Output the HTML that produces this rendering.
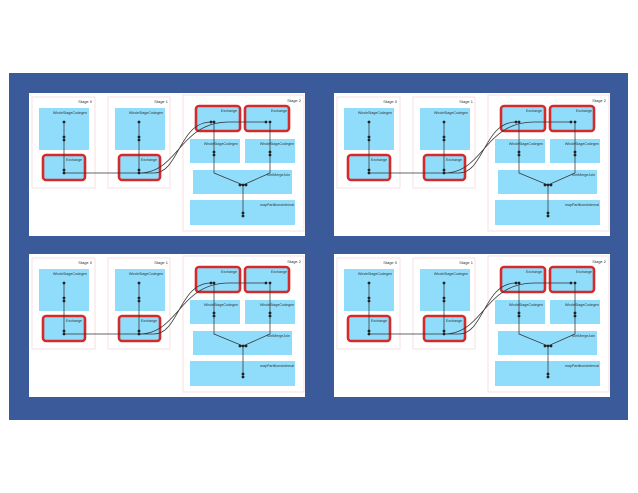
<!DOCTYPE html>
<html><head><style>html,body{margin:0;padding:0;background:#fff;}svg{display:block}</style></head>
<body>
<svg width="638" height="493" viewBox="0 0 638 493" xmlns="http://www.w3.org/2000/svg" font-family="Liberation Sans, sans-serif">
<defs>
<g id="p">
  <rect x="0" y="0" width="276" height="143" fill="#fff"/>
  <rect x="3" y="4" width="63" height="91" fill="none" stroke="#f3d6dc" stroke-width="0.7"/>
  <rect x="79" y="4" width="62" height="91" fill="none" stroke="#f3d6dc" stroke-width="0.7"/>
  <rect x="154" y="2" width="121" height="136" fill="none" stroke="#f3d6dc" stroke-width="0.7"/>
  <text x="63" y="10" font-size="4" text-anchor="end" fill="#333">Stage 0</text>
  <text x="139" y="10" font-size="4" text-anchor="end" fill="#333">Stage 1</text>
  <text x="272" y="9" font-size="4" text-anchor="end" fill="#333">Stage 2</text>
  <g fill="#8fdcfb">
    <rect x="10" y="15" width="50" height="42"/>
    <rect x="86" y="15" width="50" height="42"/>
    <rect x="14" y="62" width="42" height="25"/>
    <rect x="90" y="62" width="41" height="25"/>
    <rect x="167" y="13" width="44" height="25"/>
    <rect x="216" y="13" width="44" height="25"/>
    <rect x="161" y="46" width="50" height="24"/>
    <rect x="216" y="46" width="50" height="24"/>
    <rect x="164" y="77" width="99" height="24"/>
    <rect x="161" y="107" width="105" height="25"/>
  </g>
  <g fill="none" stroke="#d42a2a" stroke-width="2.6">
    <rect x="14" y="62" width="42" height="25" rx="3"/>
    <rect x="90" y="62" width="41" height="25" rx="3"/>
    <rect x="167" y="13" width="44" height="25" rx="3"/>
    <rect x="216" y="13" width="44" height="25" rx="3"/>
  </g>
  <g font-size="3.6" fill="#333" text-anchor="end">
    <text x="58" y="21">WholeStageCodegen</text>
    <text x="134" y="21">WholeStageCodegen</text>
    <text x="53" y="68">Exchange</text>
    <text x="128" y="68">Exchange</text>
    <text x="208" y="19">Exchange</text>
    <text x="258" y="19">Exchange</text>
    <text x="209" y="52">WholeStageCodegen</text>
    <text x="265" y="52">WholeStageCodegen</text>
    <text x="261" y="83">SortMergeJoin</text>
    <text x="265" y="113">mapPartitionsInternal</text>
  </g>
  <g fill="none" stroke="#333" stroke-width="0.75">
    <line x1="35" y1="29" x2="35" y2="80"/>
    <line x1="110" y1="29" x2="110" y2="80"/>
    <path d="M35 80 L110 80 C150 80 150 29 200 29 L237 29"/>
    <path d="M110 80 L125 80 C150 80 150 29 182 29"/>
    <path d="M185 29 L185 80 L214 92 L241 80 L241 29"/>
    <line x1="214" y1="92" x2="214" y2="123"/>
  </g>
  <g fill="#222">
    <circle cx="35" cy="29" r="1.4"/><circle cx="35" cy="44" r="1.4"/><circle cx="35" cy="47" r="1.4"/>
    <circle cx="35" cy="77" r="1.4"/><circle cx="35" cy="80" r="1.4"/>
    <circle cx="110" cy="29" r="1.4"/><circle cx="110" cy="44" r="1.4"/><circle cx="110" cy="47" r="1.4"/>
    <circle cx="110" cy="77" r="1.4"/><circle cx="110" cy="80" r="1.4"/>
    <circle cx="182" cy="29" r="1.4"/><circle cx="185" cy="29" r="1.4"/>
    <circle cx="237" cy="29" r="1.4"/><circle cx="241" cy="29" r="1.4"/>
    <circle cx="185" cy="59" r="1.4"/><circle cx="185" cy="62" r="1.4"/>
    <circle cx="241" cy="59" r="1.4"/><circle cx="241" cy="62" r="1.4"/>
    <circle cx="211" cy="92" r="1.4"/><circle cx="214" cy="92" r="1.4"/><circle cx="217" cy="92" r="1.4"/>
    <circle cx="214" cy="120" r="1.4"/><circle cx="214" cy="123" r="1.4"/>
  </g>
</g>
</defs>
<rect x="9" y="73" width="619" height="347" fill="#3a5a9a"/>
<use href="#p" x="29" y="93"/>
<use href="#p" x="334" y="93"/>
<use href="#p" x="29" y="254"/>
<use href="#p" x="334" y="254"/>
</svg>
</body></html>
